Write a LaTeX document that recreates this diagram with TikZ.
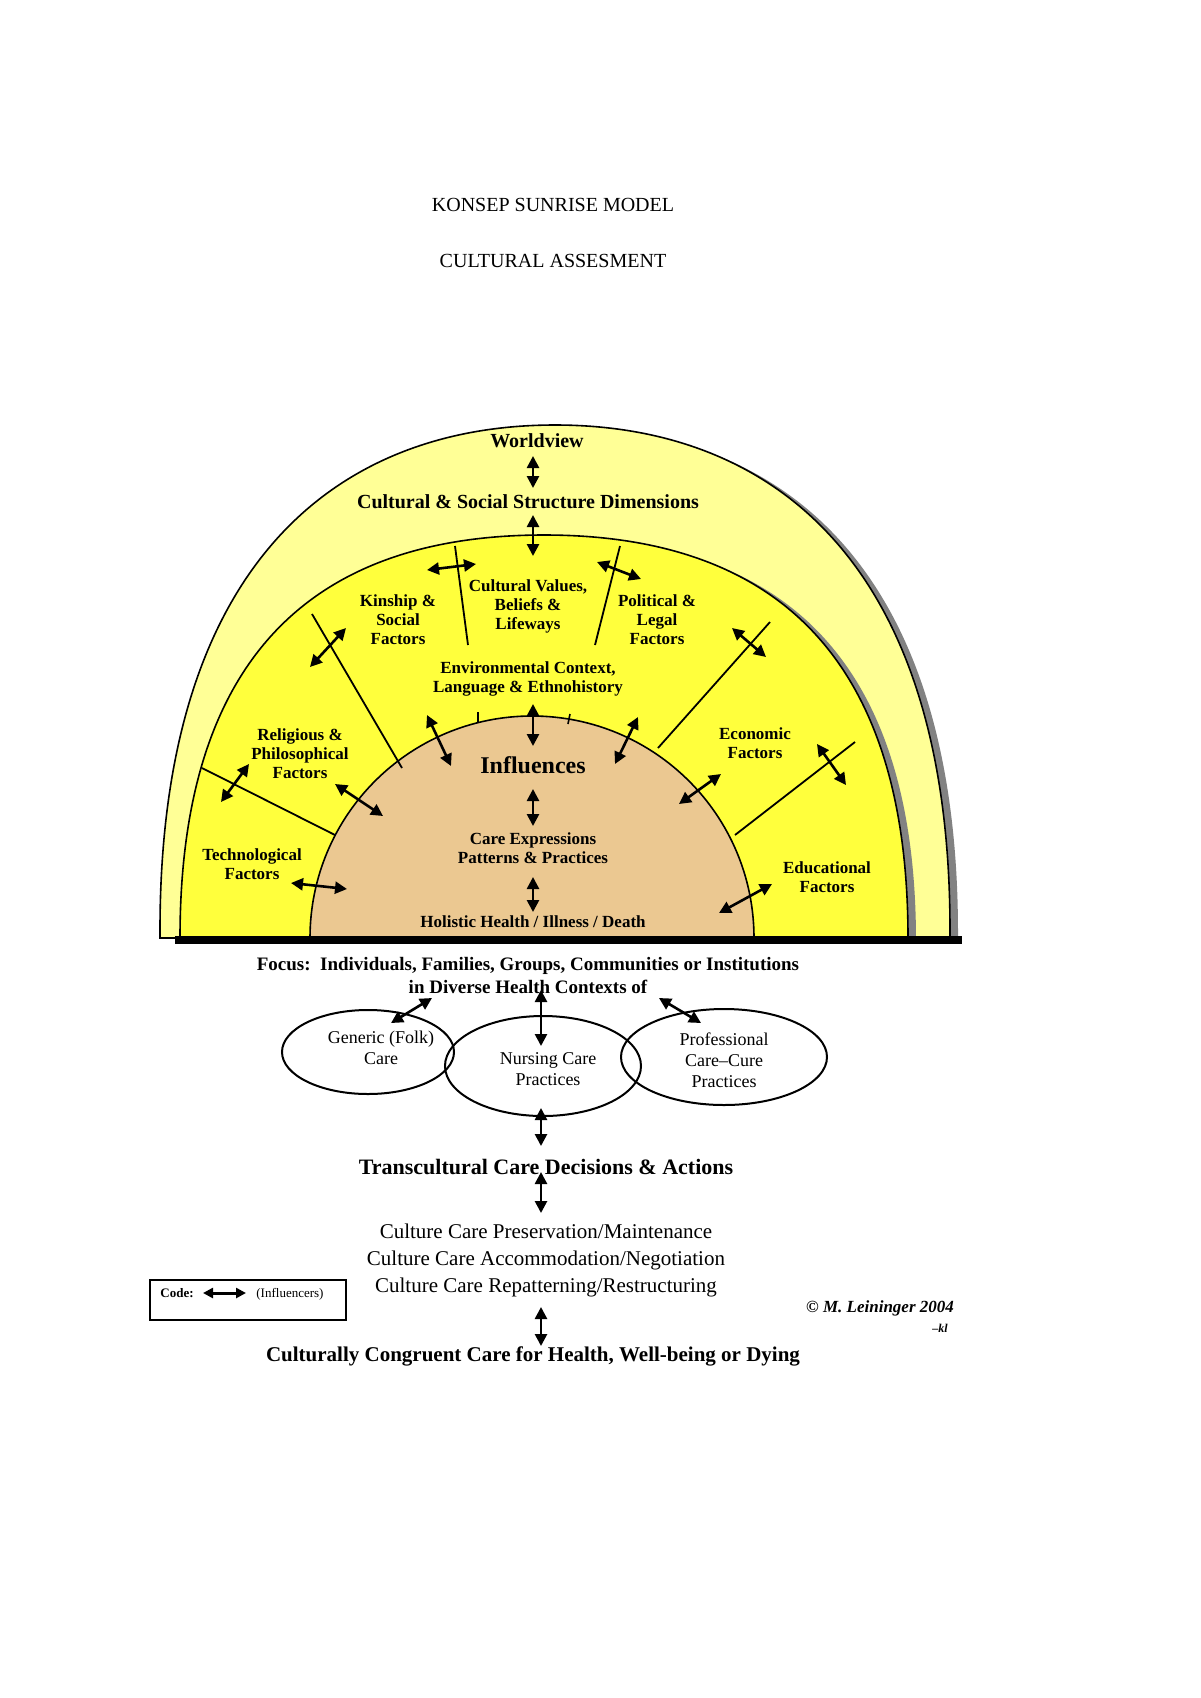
\documentclass[tikz,border=0pt]{standalone}
\usepackage{fontspec}
\setmainfont{Liberation Serif}
\usetikzlibrary{arrows.meta}
\definecolor{ylight}{RGB}{255,255,150}
\definecolor{ymid}{RGB}{255,255,60}
\definecolor{tan}{RGB}{235,200,145}
\definecolor{shadowgrey}{RGB}{130,130,130}
\newcommand\myouterarch{(160,938) -- (160,930) .. controls (160,560) and (340,425) .. (555,425) .. controls (770,425) and (950,560) .. (950,930) -- (950,938) -- cycle}
\newcommand\mymiddlearch{(180,938) .. controls (180,640) and (330,535) .. (544,535) .. controls (758,535) and (908,640) .. (908,938) -- cycle}
\tikzset{
 dbl/.style={line width=1.3pt,{Triangle[length=6pt,width=6pt]}-{Triangle[length=6pt,width=6pt]}},
 lbl/.style={font=\bfseries\fontsize{8.5}{9.5}\selectfont,align=center,inner sep=0pt},
 big/.style={font=\bfseries\fontsize{10}{11}\selectfont,align=center,inner sep=0pt},
 reg/.style={font=\fontsize{9}{10.5}\selectfont,align=center,inner sep=0pt},
 divider/.style={line width=0.9pt},
 oval/.style={draw,line width=1pt}
}
\begin{document}
\begin{tikzpicture}[x=0.5pt,y=-0.5pt]
\useasboundingbox (0,0) rectangle (1200,1698);
\fill[white] (0,0) rectangle (1200,1698);
% titles
\node[font=\fontsize{10}{12}\selectfont] (t1) at (553,205) {KONSEP SUNRISE MODEL};
\node[font=\fontsize{10}{12}\selectfont] (t2) at (553,261) {CULTURAL ASSESMENT};
% sunrise arches
\begin{scope}
\clip (0,0) rectangle (1200,938);
\fill[shadowgrey,shift={(8,3)}] \myouterarch;
\draw[fill=ylight,line width=0.8pt] \myouterarch;
\fill[shadowgrey,shift={(8,3)}] \mymiddlearch;
\draw[fill=ymid,line width=0.8pt] \mymiddlearch;
\draw[fill=tan,line width=0.8pt] (532,938) ellipse [x radius=222, y radius=222];
\end{scope}
\fill[black] (175,936) rectangle (962,944);
% dividers
\draw[divider] (202,768) -- (335,835);
\draw[divider] (312,614) -- (402,768);
\draw[divider] (455,546) -- (468,645);
\draw[divider] (620,546) -- (595,645);
\draw[divider] (770,622) -- (658,748);
\draw[divider] (855,742) -- (735,835);
\draw[line width=0.8pt] (478,712) -- (478,722);
\draw[line width=0.8pt] (570,714) -- (568,724);
% labels
\node[big] (wv) at (537,441) {Worldview};
\node[big] (csd) at (528,502) {Cultural \& Social Structure Dimensions};
\node[lbl] (kin) at (398,620) {Kinship \&\\Social\\Factors};
\node[lbl] (cv) at (528,606) {Cultural Values,\\Beliefs \&\\Lifeways};
\node[lbl] (pol) at (657,620) {Political \&\\Legal\\Factors};
\node[lbl] (env) at (528,679) {Environmental Context,\\Language \& Ethnohistory};
\node[lbl] (rel) at (300,754) {Religious \&\\Philosophical\\Factors};
\node[font=\bfseries\fontsize{12}{13}\selectfont,inner sep=0pt] (inf) at (533,765) {Influences};
\node[lbl] (eco) at (755,743) {Economic\\Factors};
\node[lbl] (care) at (533,848) {Care Expressions\\Patterns \& Practices};
\node[lbl] (tech) at (252,864) {Technological\\Factors};
\node[lbl] (edu) at (827,877) {Educational\\Factors};
\node[lbl] (hol) at (533,922) {Holistic Health / Illness / Death};
% arrows in sunrise
\draw[dbl] (533,456) coordinate (a1) -- (533,488) coordinate (a2);
\draw[dbl] (533,515) coordinate (a3) -- (533,556) coordinate (a4);
\draw[dbl] (427,570) coordinate (b1) -- (476,564) coordinate (b2);
\draw[dbl] (597,562) coordinate (b3) -- (641,579) coordinate (b4);
\draw[dbl] (310,667) coordinate (b5) -- (346,628) coordinate (b6);
\draw[dbl] (732,628) coordinate (b7) -- (766,657) coordinate (b8);
\draw[dbl] (533,704) coordinate (c1) -- (533,746) coordinate (c2);
\draw[dbl] (427,715) coordinate (c3) -- (451,766) coordinate (c4);
\draw[dbl] (638,717) coordinate (c5) -- (615,764) coordinate (c6);
\draw[dbl] (335,784) coordinate (d1) -- (383,816) coordinate (d2);
\draw[dbl] (221,802) coordinate (d3) -- (249,764) coordinate (d4);
\draw[dbl] (679,804) coordinate (d5) -- (721,774) coordinate (d6);
\draw[dbl] (817,744) coordinate (d7) -- (846,785) coordinate (d8);
\draw[dbl] (533,789) coordinate (e1) -- (533,826) coordinate (e2);
\draw[dbl] (533,877) coordinate (e3) -- (533,912) coordinate (e4);
\draw[dbl] (291,883) coordinate (e5) -- (347,889) coordinate (e6);
\draw[dbl] (719,913) coordinate (e7) -- (772,884) coordinate (e8);
% focus
\node[font=\bfseries\fontsize{9.5}{11.5}\selectfont,align=center,inner sep=0pt] (focus) at (528,975) {Focus:\ \ Individuals, Families, Groups, Communities or Institutions\\in Diverse Health Contexts of};
% ellipses
\draw[oval] (368,1052) ellipse [x radius=86, y radius=42];
\draw[oval] (543,1066) ellipse [x radius=98, y radius=50];
\draw[oval] (724,1057) ellipse [x radius=103, y radius=48];
\node[reg] (gen) at (381,1048) {Generic (Folk)\\Care};
\node[reg] (nur) at (548,1069) {Nursing Care\\Practices};
\node[reg] (pro) at (724,1060) {Professional\\Care--Cure\\Practices};
\draw[dbl] (432,998) coordinate (f1) -- (391,1023) coordinate (f2);
\draw[dbl] (541,990) coordinate (f3) -- (541,1046) coordinate (f4);
\draw[dbl] (659,998) coordinate (f5) -- (701,1023) coordinate (f6);
\draw[dbl] (541,1108) coordinate (g1) -- (541,1146) coordinate (g2);
\node[font=\bfseries\fontsize{11}{13}\selectfont,inner sep=0pt] (tc) at (546,1167) {Transcultural Care Decisions \& Actions};
\draw[dbl] (541,1172) coordinate (g3) -- (541,1213) coordinate (g4);
\node[font=\fontsize{10.5}{13.5}\selectfont,align=center,inner sep=0pt] (cc) at (546,1260) {Culture Care Preservation/Maintenance\\Culture Care Accommodation/Negotiation\\Culture Care Repatterning/Restructuring};
% code box
\draw[line width=0.7pt] (150,1280) rectangle (346,1320);
\node[font=\fontsize{6.5}{7}\selectfont,anchor=west,inner sep=0pt] (code) at (160,1293) {\textbf{Code:}};
\draw[line width=1.5pt,{Triangle[length=5pt,width=5pt]}-{Triangle[length=5pt,width=5pt]}] (203,1293) coordinate (h1) -- (246,1293) coordinate (h2);
\node[font=\fontsize{6.5}{7}\selectfont,anchor=west,inner sep=0pt] (infl) at (256,1294) {(Influencers)};
\node[font=\bfseries\itshape\fontsize{8.5}{10}\selectfont,inner sep=0pt] (copy) at (880,1308) {\textcopyright\ M. Leininger 2004};
\node[font=\bfseries\itshape\fontsize{6}{7}\selectfont,inner sep=0pt] (kl) at (940,1328) {--kl};
\draw[dbl] (541,1307) coordinate (g5) -- (541,1346) coordinate (g6);
\node[font=\bfseries\fontsize{10.5}{12}\selectfont,inner sep=0pt] (cong) at (533,1356) {Culturally Congruent Care for Health, Well-being or Dying};
\end{tikzpicture}
\end{document}
